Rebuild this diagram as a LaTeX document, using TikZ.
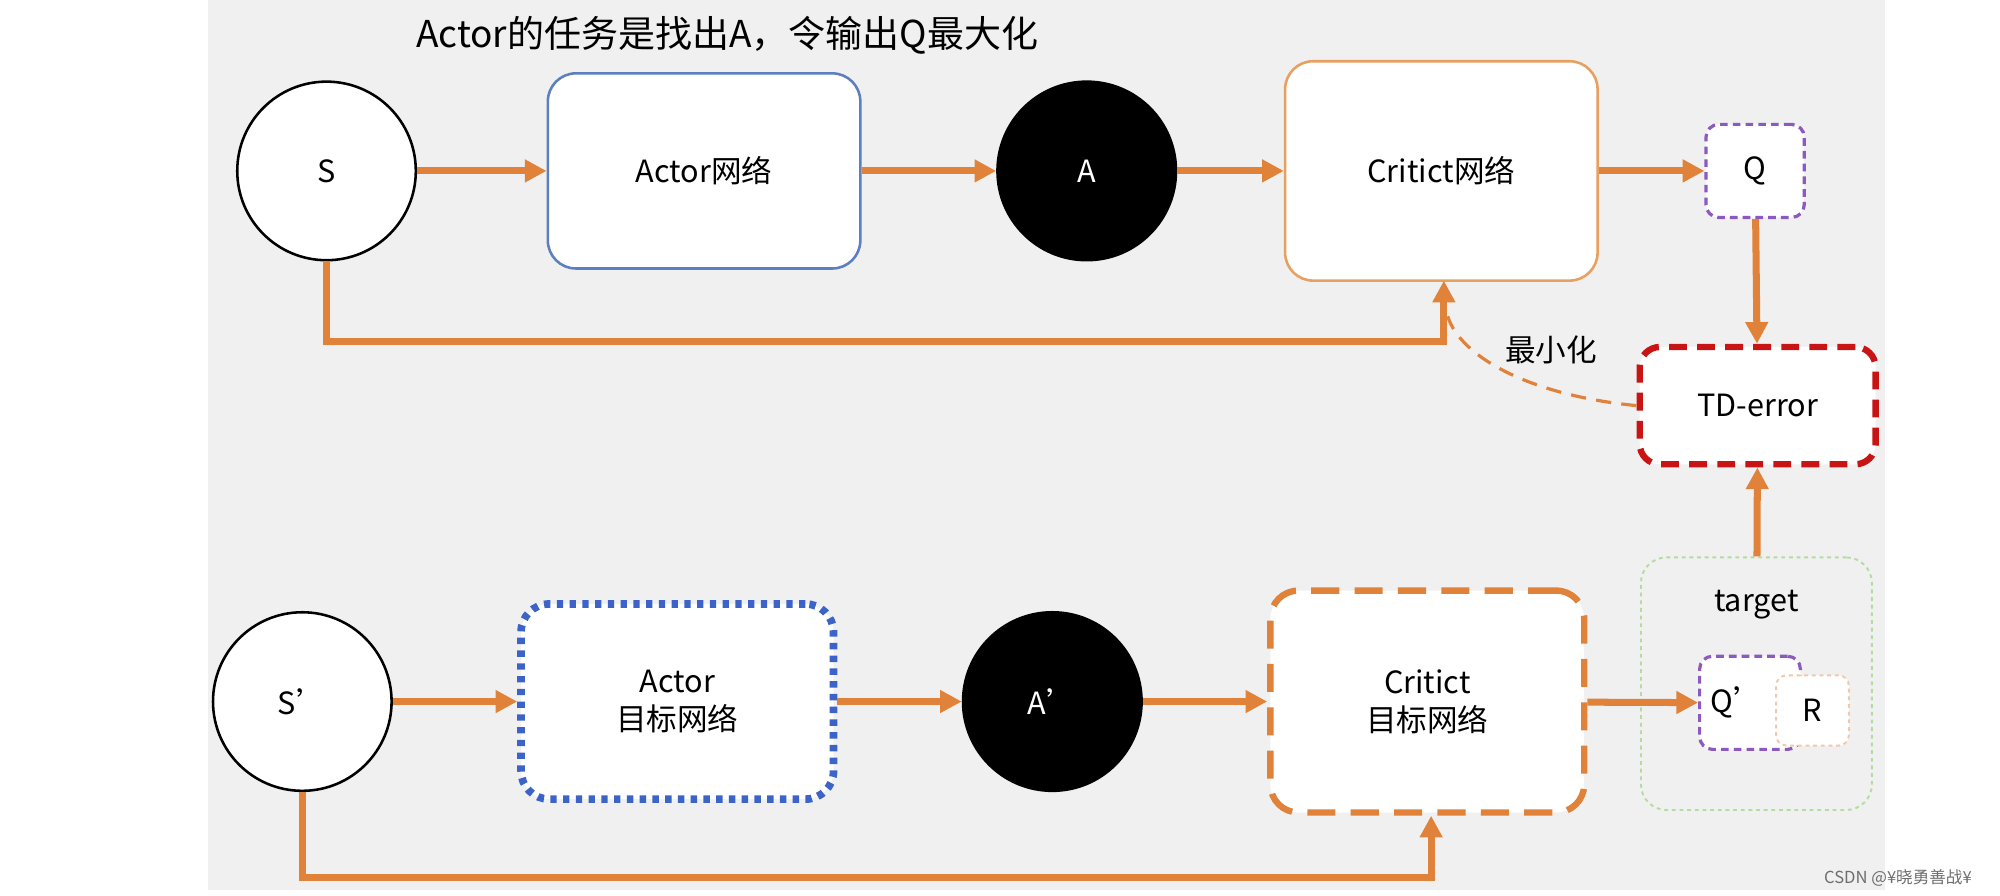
\documentclass[tikz,border=0pt]{standalone}
\usepackage{fontspec}
\setmainfont{Noto Sans CJK SC}
\usetikzlibrary{arrows.meta}
\definecolor{org}{HTML}{E0823A}
\definecolor{bgc}{HTML}{F0F0F0}
\begin{document}
\begin{tikzpicture}[x=1pt,y=-1pt,
  txt/.style={font=\fontsize{24}{30}\selectfont,align=center},
  arr/.style={draw=org,line width=5.5pt,-{Triangle[length=17pt,width=17pt]}},
  circ/.style={circle,minimum size=140pt,line width=2pt,draw=black,txt},
  box/.style={rounded corners=22pt,fill=white,txt}]
\useasboundingbox (0,0) rectangle (1568,702);
\fill[bgc] (163,0) rectangle (1478,698);
\node[font=\fontsize{29}{34}\selectfont,anchor=west,inner sep=0pt] (title) at (326,28) {Actor的任务是找出A，令输出Q最大化};
\node[circ,fill=white] (s) at (256,134) {S};
\node[box,draw={rgb,255:red,91;green,127;blue,191},line width=2pt,minimum width=245pt,minimum height=153pt] (actor) at (552,134) {Actor网络};
\node[circ,fill=black,text=white] (a) at (852,134) {A};
\node[box,draw={rgb,255:red,232;green,160;blue,96},line width=2pt,minimum width=245pt,minimum height=172pt] (critic) at (1130,134) {Critict网络};
\node[box,rounded corners=10pt,draw={rgb,255:red,140;green,90;blue,190},dash pattern=on 6pt off 4pt,line width=2.5pt,minimum width=77pt,minimum height=73pt] (q) at (1376,134) {Q};
\node[box,rounded corners=16pt,draw={rgb,255:red,200;green,20;blue,20},dash pattern=on 14pt off 8pt,line width=5pt,minimum width=185pt,minimum height=92pt] (td) at (1378,318) {TD-error};
\coordinate (cb) at (1132,220);
\draw[arr] (s) -- (actor);
\draw[arr] (actor) -- (a);
\draw[arr] (a) -- (critic);
\draw[arr] (critic) -- (q);
\draw[arr] (q) -- (td);
\draw[arr] (s.south) |- (1132,268) -- (cb);
\draw[org,line width=2.5pt,dash pattern=on 12pt off 8pt] (td.west) .. controls (1200,310) and (1145,280) .. (1135,248);
\node[txt] (min) at (1216,274) {最小化};
\node[circ,fill=white] (s2) at (237,550) {S'};
\node[box,draw={rgb,255:red,60;green,100;blue,200},dash pattern=on 5pt off 5pt,line width=6pt,minimum width=245pt,minimum height=153pt] (actor2) at (531,550) {Actor\\目标网络};
\node[circ,fill=black,text=white] (a2) at (825,550) {A'};
\node[box,draw=org,dash pattern=on 22pt off 12pt,line width=5pt,minimum width=246pt,minimum height=174pt] (critic2) at (1119,550) {Critict\\目标网络};
\node[box,fill=none,rounded corners=20pt,draw={rgb,255:red,180;green,220;blue,160},dashed,line width=1.5pt,minimum width=181pt,minimum height=198pt] (target) at (1377,536) {};
\node[txt] (tl) at (1377,474) {target};
\node[box,rounded corners=10pt,draw={rgb,255:red,140;green,90;blue,190},dash pattern=on 6pt off 4pt,line width=2.5pt,minimum width=79pt,minimum height=73pt] (q2) at (1372,551) {};
\node[box,rounded corners=8pt,draw={rgb,255:red,240;green,200;blue,170},dashed,line width=1.5pt,minimum width=57pt,minimum height=55pt] (r) at (1421,557) {R};
\node[txt] (q2l) at (1362,551) {Q'};
\draw[arr] (s2) -- (actor2);
\draw[arr] (actor2) -- (a2);
\draw[arr] (a2) -- (critic2);
\draw[arr] (critic2) -- (q2);
\draw[arr] (target) -- (td);
\draw[arr] (s2.south) |- (1122,688) -- (critic2.south -| 1122,0);
\node[font=\fontsize{13}{15}\selectfont,text={rgb,255:red,110;green,110;blue,110}] (wm) at (1488,688) {CSDN @¥晓勇善战¥};
\end{tikzpicture}
\end{document}
